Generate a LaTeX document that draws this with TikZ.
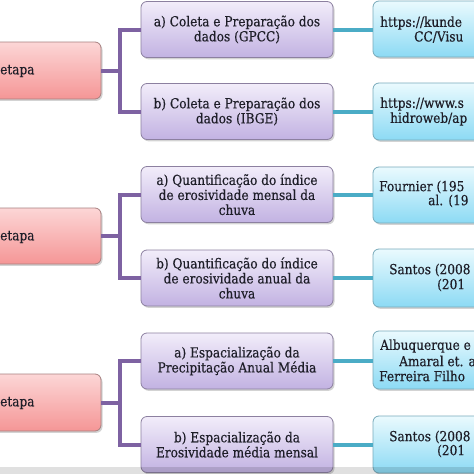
\documentclass[tikz,border=0pt]{standalone}
\usepackage{fontspec}
\setmainfont[FakeStretch=0.88,FakeBold=0.4]{DejaVu Serif}
\usetikzlibrary{shadows}
\definecolor{pinktop}{RGB}{252,214,214}
\definecolor{pinkbot}{RGB}{245,150,150}
\definecolor{pinkedge}{RGB}{168,128,128}
\definecolor{purptop}{RGB}{242,237,250}
\definecolor{purpbot}{RGB}{194,178,226}
\definecolor{purpedge}{RGB}{140,128,160}
\definecolor{cyantop}{RGB}{234,250,254}
\definecolor{cyanbot}{RGB}{140,218,244}
\definecolor{cyanedge}{RGB}{120,170,186}
\definecolor{purpline}{RGB}{126,98,162}
\definecolor{tealline}{RGB}{75,172,198}
\definecolor{ink}{RGB}{30,30,40}
\begin{document}
\begin{tikzpicture}[x=1pt,y=-1pt,
  basebox/.style={line width=0.8pt, rounded corners=6pt, inner sep=0pt,
    drop shadow={shadow xshift=1.5pt, shadow yshift=-1.8pt, opacity=0.35}},
  pinkbox/.style={basebox, draw=pinkedge, top color=pinktop, bottom color=pinkbot},
  purpbox/.style={basebox, draw=purpedge, top color=purptop, bottom color=purpbot,
    minimum width=192pt, minimum height=56pt, text=ink, align=center,
    font=\fontsize{13.8}{15}\selectfont},
  cyanbox/.style={basebox, draw=cyanedge, top color=cyantop, bottom color=cyanbot},
  txt/.style={text=ink, inner sep=0pt, font=\fontsize{13.8}{15}\selectfont},
  pline/.style={draw=purpline, line width=4pt},
  tline/.style={draw=tealline, line width=4pt}]
\useasboundingbox (0,0) rectangle (474,474);
\clip (0,0) rectangle (474,474);

% ---------- group 1 ----------
\path[pinkbox] (-80,42) rectangle (101,99);
\coordinate (k1) at (101,70.5);
\node[txt, anchor=west] (e1) at (0,71) {etapa};
\node[purpbox] (p1a) at (237,29.5) {a) Coleta e Preparação dos\\dados (GPCC)};
\node[purpbox] (p1b) at (237,111.5) {b) Coleta e Preparação dos\\dados (IBGE)};
\path[cyanbox] (373,1) rectangle (560,57);
\path[cyanbox] (373,83) rectangle (560,140);
\coordinate (c1a) at (373,29.5);
\coordinate (c1b) at (373,111.5);
\node[txt, anchor=west] (u1) at (380,23) {https://kunde};
\node[txt, anchor=west] (u2) at (414,37) {CC/Visu};
\node[txt, anchor=west] (u3) at (380,104) {https://www.s};
\node[txt, anchor=west] (u4) at (390,119) {hidroweb/ap};

% ---------- group 2 ----------
\path[pinkbox] (-80,208) rectangle (101,264);
\coordinate (k2) at (101,236);
\node[txt, anchor=west] (e2) at (0,237) {etapa};
\node[purpbox] (p2a) at (237,194.5) {a) Quantificação do índice\\de erosividade mensal da\\chuva};
\node[purpbox] (p2b) at (237,278) {b) Quantificação do índice\\de erosividade anual da\\chuva};
\path[cyanbox] (373,167) rectangle (560,223);
\path[cyanbox] (373,249) rectangle (560,307);
\coordinate (c2a) at (373,194.5);
\coordinate (c2b) at (373,278);
\node[txt, anchor=west] (f1) at (379,187) {Fournier (195};
\node[txt, anchor=west] (f2) at (428,201) {al. (19};
\node[txt, anchor=west] (s1) at (389,270) {Santos (2008};
\node[txt, anchor=west] (s2) at (437,285) {(201};

% ---------- group 3 ----------
\path[pinkbox] (-80,374) rectangle (101,431);
\coordinate (k3) at (101,402.5);
\node[txt, anchor=west] (e3) at (0,403) {etapa};
\node[purpbox] (p3a) at (237,361) {a) Espacialização da\\Precipitação Anual Média};
\node[purpbox] (p3b) at (237,444.5) {b) Espacialização da\\Erosividade média mensal};
\path[cyanbox] (373,331) rectangle (560,389);
\path[cyanbox] (373,416) rectangle (560,473);
\coordinate (c3a) at (373,361);
\coordinate (c3b) at (373,444.5);
\node[txt, anchor=west] (a1) at (380,346) {Albuquerque e};
\node[txt, anchor=west] (a2) at (399,361) {Amaral et. a};
\node[txt, anchor=west] (a3) at (379,376) {Ferreira Filho};
\node[txt, anchor=west] (s3) at (389,437) {Santos (2008};
\node[txt, anchor=west] (s4) at (437,451) {(201};

% ---------- connectors ----------
\coordinate (j1) at (120,70.5);
\coordinate (j2) at (120,236);
\coordinate (j3) at (120,402.5);
\foreach \g in {1,2,3} {
  \draw[pline] (k\g) -- (j\g);
}
\draw[pline] (j1) |- (p1a.west);
\draw[pline] (j1) |- (p1b.west);
\draw[pline] (j2) |- (p2a.west);
\draw[pline] (j2) |- (p2b.west);
\draw[pline] (j3) |- (p3a.west);
\draw[pline] (j3) |- (p3b.west);
\draw[tline] (p1a.east) -- (c1a);
\draw[tline] (p1b.east) -- (c1b);
\draw[tline] (p2a.east) -- (c2a);
\draw[tline] (p2b.east) -- (c2b);
\draw[tline] (p3a.east) -- (c3a);
\draw[tline] (p3b.east) -- (c3b);

% bottom strip
\fill[black, opacity=0.12] (0,467) rectangle (474,474);
\end{tikzpicture}
\end{document}
